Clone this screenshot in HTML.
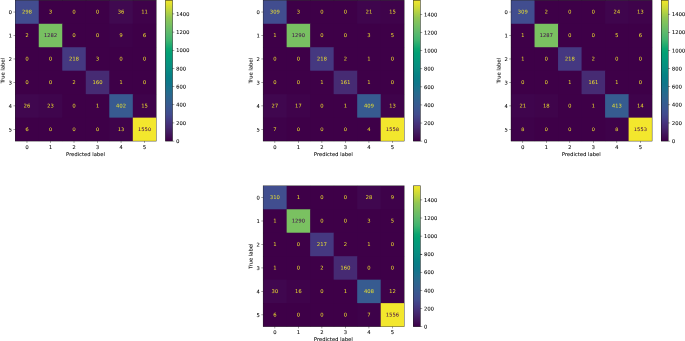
<!DOCTYPE html>
<html><head><meta charset="utf-8"><title>Confusion matrices</title>
<style>
html,body{margin:0;padding:0;background:#fff;overflow:hidden}
#w{width:1370px;height:682px;transform-origin:0 0;transform:scale(0.5);will-change:transform}
#c{width:685px;height:341px;overflow:hidden;position:relative;background:#fff}
svg{display:block}
text{text-rendering:geometricPrecision;font-family:"DejaVu Sans","Liberation Sans",sans-serif;font-size:50.80px}
.k{fill:#000;stroke:#000;stroke-width:0.60px}
.tk{stroke:#000;stroke-width:0.36}
</style></head><body>
<div id="c"><div id="w"><svg width="1370" height="682" viewBox="0 0 685 341">
<defs><linearGradient id="vg" x1="0" y1="0" x2="0" y2="1"><stop offset="0.0000" stop-color="#f3e72d"/><stop offset="0.0312" stop-color="#dee031"/><stop offset="0.0625" stop-color="#c6d83c"/><stop offset="0.0938" stop-color="#abcf47"/><stop offset="0.1250" stop-color="#91c754"/><stop offset="0.1562" stop-color="#82c35d"/><stop offset="0.1875" stop-color="#72bf64"/><stop offset="0.2188" stop-color="#63bb6b"/><stop offset="0.2500" stop-color="#52b86f"/><stop offset="0.2812" stop-color="#41b570"/><stop offset="0.3125" stop-color="#26ae71"/><stop offset="0.3438" stop-color="#0ca671"/><stop offset="0.3750" stop-color="#02a075"/><stop offset="0.4062" stop-color="#039b7a"/><stop offset="0.4375" stop-color="#05957e"/><stop offset="0.4688" stop-color="#078f81"/><stop offset="0.5000" stop-color="#078983"/><stop offset="0.5312" stop-color="#068285"/><stop offset="0.5625" stop-color="#0a7c88"/><stop offset="0.5938" stop-color="#10768b"/><stop offset="0.6250" stop-color="#1a718d"/><stop offset="0.6562" stop-color="#256b8e"/><stop offset="0.6875" stop-color="#2d658f"/><stop offset="0.7188" stop-color="#335f90"/><stop offset="0.7500" stop-color="#395990"/><stop offset="0.7812" stop-color="#3e5290"/><stop offset="0.8125" stop-color="#424b8e"/><stop offset="0.8438" stop-color="#443f86"/><stop offset="0.8750" stop-color="#46337c"/><stop offset="0.9062" stop-color="#45286f"/><stop offset="0.9375" stop-color="#431c61"/><stop offset="0.9688" stop-color="#410e55"/><stop offset="1.0000" stop-color="#3e0048"/></linearGradient></defs>
<rect width="685" height="341" fill="#fff"/>
<g transform="translate(15.22,0.30)">
<rect x="0.00" y="0.00" width="24.12" height="24.07" fill="#424c8f"/>
<rect x="23.52" y="0.00" width="24.12" height="24.07" fill="#3e0048"/>
<rect x="47.03" y="0.00" width="24.12" height="24.07" fill="#3e0048"/>
<rect x="70.55" y="0.00" width="24.12" height="24.07" fill="#3e0048"/>
<rect x="94.07" y="0.00" width="24.12" height="24.07" fill="#400950"/>
<rect x="117.58" y="0.00" width="23.52" height="24.07" fill="#3f024a"/>
<rect x="0.00" y="23.47" width="24.12" height="24.07" fill="#3e0048"/>
<rect x="23.52" y="23.47" width="24.12" height="24.07" fill="#78c062"/>
<rect x="47.03" y="23.47" width="24.12" height="24.07" fill="#3e0048"/>
<rect x="70.55" y="23.47" width="24.12" height="24.07" fill="#3e0048"/>
<rect x="94.07" y="23.47" width="24.12" height="24.07" fill="#3e024a"/>
<rect x="117.58" y="23.47" width="23.52" height="24.07" fill="#3e0048"/>
<rect x="0.00" y="46.93" width="24.12" height="24.07" fill="#3e0048"/>
<rect x="23.52" y="46.93" width="24.12" height="24.07" fill="#3e0048"/>
<rect x="47.03" y="46.93" width="24.12" height="24.07" fill="#453981"/>
<rect x="70.55" y="46.93" width="24.12" height="24.07" fill="#3e0048"/>
<rect x="94.07" y="46.93" width="24.12" height="24.07" fill="#3e0048"/>
<rect x="117.58" y="46.93" width="23.52" height="24.07" fill="#3e0048"/>
<rect x="0.00" y="70.40" width="24.12" height="24.07" fill="#3e0048"/>
<rect x="23.52" y="70.40" width="24.12" height="24.07" fill="#3e0048"/>
<rect x="47.03" y="70.40" width="24.12" height="24.07" fill="#3e0048"/>
<rect x="70.55" y="70.40" width="24.12" height="24.07" fill="#462b73"/>
<rect x="94.07" y="70.40" width="24.12" height="24.07" fill="#3e0048"/>
<rect x="117.58" y="70.40" width="23.52" height="24.07" fill="#3e0048"/>
<rect x="0.00" y="93.87" width="24.12" height="24.07" fill="#40074f"/>
<rect x="23.52" y="93.87" width="24.12" height="24.07" fill="#3f054d"/>
<rect x="47.03" y="93.87" width="24.12" height="24.07" fill="#3e0048"/>
<rect x="70.55" y="93.87" width="24.12" height="24.07" fill="#3e0048"/>
<rect x="94.07" y="93.87" width="24.12" height="24.07" fill="#385a90"/>
<rect x="117.58" y="93.87" width="23.52" height="24.07" fill="#3f034b"/>
<rect x="0.00" y="117.33" width="24.12" height="23.47" fill="#3e0048"/>
<rect x="23.52" y="117.33" width="24.12" height="23.47" fill="#3e0048"/>
<rect x="47.03" y="117.33" width="24.12" height="23.47" fill="#3e0048"/>
<rect x="70.55" y="117.33" width="24.12" height="23.47" fill="#3e0048"/>
<rect x="94.07" y="117.33" width="24.12" height="23.47" fill="#3f034b"/>
<rect x="117.58" y="117.33" width="23.52" height="23.47" fill="#f3e72d"/>
<rect x="0" y="0" width="141.10" height="140.80" fill="none" stroke="#000" stroke-width="0.36"/>
<text transform="translate(11.76,13.33) scale(0.1030,0.1000)" text-anchor="middle" fill="#f3e72d">298</text>
<text transform="translate(35.27,13.33) scale(0.1030,0.1000)" text-anchor="middle" fill="#f3e72d">3</text>
<text transform="translate(58.79,13.33) scale(0.1030,0.1000)" text-anchor="middle" fill="#f3e72d">0</text>
<text transform="translate(82.31,13.33) scale(0.1030,0.1000)" text-anchor="middle" fill="#f3e72d">0</text>
<text transform="translate(105.82,13.33) scale(0.1030,0.1000)" text-anchor="middle" fill="#f3e72d">36</text>
<text transform="translate(129.34,13.33) scale(0.1030,0.1000)" text-anchor="middle" fill="#f3e72d">11</text>
<text transform="translate(11.76,36.80) scale(0.1030,0.1000)" text-anchor="middle" fill="#f3e72d">2</text>
<text transform="translate(35.27,36.80) scale(0.1030,0.1000)" text-anchor="middle" fill="#3e0048">1282</text>
<text transform="translate(58.79,36.80) scale(0.1030,0.1000)" text-anchor="middle" fill="#f3e72d">0</text>
<text transform="translate(82.31,36.80) scale(0.1030,0.1000)" text-anchor="middle" fill="#f3e72d">0</text>
<text transform="translate(105.82,36.80) scale(0.1030,0.1000)" text-anchor="middle" fill="#f3e72d">9</text>
<text transform="translate(129.34,36.80) scale(0.1030,0.1000)" text-anchor="middle" fill="#f3e72d">6</text>
<text transform="translate(11.76,60.27) scale(0.1030,0.1000)" text-anchor="middle" fill="#f3e72d">0</text>
<text transform="translate(35.27,60.27) scale(0.1030,0.1000)" text-anchor="middle" fill="#f3e72d">0</text>
<text transform="translate(58.79,60.27) scale(0.1030,0.1000)" text-anchor="middle" fill="#f3e72d">218</text>
<text transform="translate(82.31,60.27) scale(0.1030,0.1000)" text-anchor="middle" fill="#f3e72d">3</text>
<text transform="translate(105.82,60.27) scale(0.1030,0.1000)" text-anchor="middle" fill="#f3e72d">0</text>
<text transform="translate(129.34,60.27) scale(0.1030,0.1000)" text-anchor="middle" fill="#f3e72d">0</text>
<text transform="translate(11.76,83.73) scale(0.1030,0.1000)" text-anchor="middle" fill="#f3e72d">0</text>
<text transform="translate(35.27,83.73) scale(0.1030,0.1000)" text-anchor="middle" fill="#f3e72d">0</text>
<text transform="translate(58.79,83.73) scale(0.1030,0.1000)" text-anchor="middle" fill="#f3e72d">2</text>
<text transform="translate(82.31,83.73) scale(0.1030,0.1000)" text-anchor="middle" fill="#f3e72d">160</text>
<text transform="translate(105.82,83.73) scale(0.1030,0.1000)" text-anchor="middle" fill="#f3e72d">1</text>
<text transform="translate(129.34,83.73) scale(0.1030,0.1000)" text-anchor="middle" fill="#f3e72d">0</text>
<text transform="translate(11.76,107.20) scale(0.1030,0.1000)" text-anchor="middle" fill="#f3e72d">26</text>
<text transform="translate(35.27,107.20) scale(0.1030,0.1000)" text-anchor="middle" fill="#f3e72d">23</text>
<text transform="translate(58.79,107.20) scale(0.1030,0.1000)" text-anchor="middle" fill="#f3e72d">0</text>
<text transform="translate(82.31,107.20) scale(0.1030,0.1000)" text-anchor="middle" fill="#f3e72d">1</text>
<text transform="translate(105.82,107.20) scale(0.1030,0.1000)" text-anchor="middle" fill="#f3e72d">402</text>
<text transform="translate(129.34,107.20) scale(0.1030,0.1000)" text-anchor="middle" fill="#f3e72d">15</text>
<text transform="translate(11.76,130.67) scale(0.1030,0.1000)" text-anchor="middle" fill="#f3e72d">6</text>
<text transform="translate(35.27,130.67) scale(0.1030,0.1000)" text-anchor="middle" fill="#f3e72d">0</text>
<text transform="translate(58.79,130.67) scale(0.1030,0.1000)" text-anchor="middle" fill="#f3e72d">0</text>
<text transform="translate(82.31,130.67) scale(0.1030,0.1000)" text-anchor="middle" fill="#f3e72d">0</text>
<text transform="translate(105.82,130.67) scale(0.1030,0.1000)" text-anchor="middle" fill="#f3e72d">13</text>
<text transform="translate(129.34,130.67) scale(0.1030,0.1000)" text-anchor="middle" fill="#3e0048">1550</text>
<line x1="-1.80" y1="11.73" x2="0" y2="11.73" class="tk"/>
<text transform="translate(-3.25,13.63) scale(0.1030,0.1000)" text-anchor="end" class="k">0</text>
<line x1="11.76" y1="140.80" x2="11.76" y2="142.60" class="tk"/>
<text transform="translate(11.76,148.60) scale(0.1030,0.1000)" text-anchor="middle" class="k">0</text>
<line x1="-1.80" y1="35.20" x2="0" y2="35.20" class="tk"/>
<text transform="translate(-3.25,37.10) scale(0.1030,0.1000)" text-anchor="end" class="k">1</text>
<line x1="35.27" y1="140.80" x2="35.27" y2="142.60" class="tk"/>
<text transform="translate(35.27,148.60) scale(0.1030,0.1000)" text-anchor="middle" class="k">1</text>
<line x1="-1.80" y1="58.67" x2="0" y2="58.67" class="tk"/>
<text transform="translate(-3.25,60.57) scale(0.1030,0.1000)" text-anchor="end" class="k">2</text>
<line x1="58.79" y1="140.80" x2="58.79" y2="142.60" class="tk"/>
<text transform="translate(58.79,148.60) scale(0.1030,0.1000)" text-anchor="middle" class="k">2</text>
<line x1="-1.80" y1="82.13" x2="0" y2="82.13" class="tk"/>
<text transform="translate(-3.25,84.03) scale(0.1030,0.1000)" text-anchor="end" class="k">3</text>
<line x1="82.31" y1="140.80" x2="82.31" y2="142.60" class="tk"/>
<text transform="translate(82.31,148.60) scale(0.1030,0.1000)" text-anchor="middle" class="k">3</text>
<line x1="-1.80" y1="105.60" x2="0" y2="105.60" class="tk"/>
<text transform="translate(-3.25,107.50) scale(0.1030,0.1000)" text-anchor="end" class="k">4</text>
<line x1="105.82" y1="140.80" x2="105.82" y2="142.60" class="tk"/>
<text transform="translate(105.82,148.60) scale(0.1030,0.1000)" text-anchor="middle" class="k">4</text>
<line x1="-1.80" y1="129.07" x2="0" y2="129.07" class="tk"/>
<text transform="translate(-3.25,130.97) scale(0.1030,0.1000)" text-anchor="end" class="k">5</text>
<line x1="129.34" y1="140.80" x2="129.34" y2="142.60" class="tk"/>
<text transform="translate(129.34,148.60) scale(0.1030,0.1000)" text-anchor="middle" class="k">5</text>
<text transform="translate(70.25,155.50) scale(0.1030,0.1000)" text-anchor="middle" class="k">Predicted label</text>
<text transform="translate(-10.70,70.40) rotate(-90) scale(0.1030,0.1000)" text-anchor="middle" class="k">True label</text>
<rect x="150.20" y="0" width="7.10" height="140.80" fill="url(#vg)" stroke="#000" stroke-width="0.44"/>
<line x1="157.30" y1="140.80" x2="159.10" y2="140.80" class="tk"/>
<text transform="translate(160.90,142.70) scale(0.1030,0.1000)" class="k">0</text>
<line x1="157.30" y1="122.63" x2="159.10" y2="122.63" class="tk"/>
<text transform="translate(160.90,124.53) scale(0.1030,0.1000)" class="k">200</text>
<line x1="157.30" y1="104.46" x2="159.10" y2="104.46" class="tk"/>
<text transform="translate(160.90,106.36) scale(0.1030,0.1000)" class="k">400</text>
<line x1="157.30" y1="86.30" x2="159.10" y2="86.30" class="tk"/>
<text transform="translate(160.90,88.20) scale(0.1030,0.1000)" class="k">600</text>
<line x1="157.30" y1="68.13" x2="159.10" y2="68.13" class="tk"/>
<text transform="translate(160.90,70.03) scale(0.1030,0.1000)" class="k">800</text>
<line x1="157.30" y1="49.96" x2="159.10" y2="49.96" class="tk"/>
<text transform="translate(160.90,51.86) scale(0.1030,0.1000)" class="k">1000</text>
<line x1="157.30" y1="31.79" x2="159.10" y2="31.79" class="tk"/>
<text transform="translate(160.90,33.69) scale(0.1030,0.1000)" class="k">1200</text>
<line x1="157.30" y1="13.63" x2="159.10" y2="13.63" class="tk"/>
<text transform="translate(160.90,15.53) scale(0.1030,0.1000)" class="k">1400</text>
</g>
<g transform="translate(263.12,0.30)">
<rect x="0.00" y="0.00" width="24.12" height="24.07" fill="#414d8f"/>
<rect x="23.52" y="0.00" width="24.12" height="24.07" fill="#3e0048"/>
<rect x="47.03" y="0.00" width="24.12" height="24.07" fill="#3e0048"/>
<rect x="70.55" y="0.00" width="24.12" height="24.07" fill="#3e0048"/>
<rect x="94.07" y="0.00" width="24.12" height="24.07" fill="#3f054d"/>
<rect x="117.58" y="0.00" width="23.52" height="24.07" fill="#3f034b"/>
<rect x="0.00" y="23.47" width="24.12" height="24.07" fill="#3e0048"/>
<rect x="23.52" y="23.47" width="24.12" height="24.07" fill="#78c062"/>
<rect x="47.03" y="23.47" width="24.12" height="24.07" fill="#3e0048"/>
<rect x="70.55" y="23.47" width="24.12" height="24.07" fill="#3e0048"/>
<rect x="94.07" y="23.47" width="24.12" height="24.07" fill="#3e0048"/>
<rect x="117.58" y="23.47" width="23.52" height="24.07" fill="#3e0048"/>
<rect x="0.00" y="46.93" width="24.12" height="24.07" fill="#3e0048"/>
<rect x="23.52" y="46.93" width="24.12" height="24.07" fill="#3e0048"/>
<rect x="47.03" y="46.93" width="24.12" height="24.07" fill="#453880"/>
<rect x="70.55" y="46.93" width="24.12" height="24.07" fill="#3e0048"/>
<rect x="94.07" y="46.93" width="24.12" height="24.07" fill="#3e0048"/>
<rect x="117.58" y="46.93" width="23.52" height="24.07" fill="#3e0048"/>
<rect x="0.00" y="70.40" width="24.12" height="24.07" fill="#3e0048"/>
<rect x="23.52" y="70.40" width="24.12" height="24.07" fill="#3e0048"/>
<rect x="47.03" y="70.40" width="24.12" height="24.07" fill="#3e0048"/>
<rect x="70.55" y="70.40" width="24.12" height="24.07" fill="#462b73"/>
<rect x="94.07" y="70.40" width="24.12" height="24.07" fill="#3e0048"/>
<rect x="117.58" y="70.40" width="23.52" height="24.07" fill="#3e0048"/>
<rect x="0.00" y="93.87" width="24.12" height="24.07" fill="#40074f"/>
<rect x="23.52" y="93.87" width="24.12" height="24.07" fill="#3f034b"/>
<rect x="47.03" y="93.87" width="24.12" height="24.07" fill="#3e0048"/>
<rect x="70.55" y="93.87" width="24.12" height="24.07" fill="#3e0048"/>
<rect x="94.07" y="93.87" width="24.12" height="24.07" fill="#375b90"/>
<rect x="117.58" y="93.87" width="23.52" height="24.07" fill="#3f034b"/>
<rect x="0.00" y="117.33" width="24.12" height="23.47" fill="#3e024a"/>
<rect x="23.52" y="117.33" width="24.12" height="23.47" fill="#3e0048"/>
<rect x="47.03" y="117.33" width="24.12" height="23.47" fill="#3e0048"/>
<rect x="70.55" y="117.33" width="24.12" height="23.47" fill="#3e0048"/>
<rect x="94.07" y="117.33" width="24.12" height="23.47" fill="#3e0048"/>
<rect x="117.58" y="117.33" width="23.52" height="23.47" fill="#f3e72d"/>
<rect x="0" y="0" width="141.10" height="140.80" fill="none" stroke="#000" stroke-width="0.36"/>
<text transform="translate(11.76,13.33) scale(0.1030,0.1000)" text-anchor="middle" fill="#f3e72d">309</text>
<text transform="translate(35.27,13.33) scale(0.1030,0.1000)" text-anchor="middle" fill="#f3e72d">3</text>
<text transform="translate(58.79,13.33) scale(0.1030,0.1000)" text-anchor="middle" fill="#f3e72d">0</text>
<text transform="translate(82.31,13.33) scale(0.1030,0.1000)" text-anchor="middle" fill="#f3e72d">0</text>
<text transform="translate(105.82,13.33) scale(0.1030,0.1000)" text-anchor="middle" fill="#f3e72d">21</text>
<text transform="translate(129.34,13.33) scale(0.1030,0.1000)" text-anchor="middle" fill="#f3e72d">15</text>
<text transform="translate(11.76,36.80) scale(0.1030,0.1000)" text-anchor="middle" fill="#f3e72d">1</text>
<text transform="translate(35.27,36.80) scale(0.1030,0.1000)" text-anchor="middle" fill="#3e0048">1290</text>
<text transform="translate(58.79,36.80) scale(0.1030,0.1000)" text-anchor="middle" fill="#f3e72d">0</text>
<text transform="translate(82.31,36.80) scale(0.1030,0.1000)" text-anchor="middle" fill="#f3e72d">0</text>
<text transform="translate(105.82,36.80) scale(0.1030,0.1000)" text-anchor="middle" fill="#f3e72d">3</text>
<text transform="translate(129.34,36.80) scale(0.1030,0.1000)" text-anchor="middle" fill="#f3e72d">5</text>
<text transform="translate(11.76,60.27) scale(0.1030,0.1000)" text-anchor="middle" fill="#f3e72d">0</text>
<text transform="translate(35.27,60.27) scale(0.1030,0.1000)" text-anchor="middle" fill="#f3e72d">0</text>
<text transform="translate(58.79,60.27) scale(0.1030,0.1000)" text-anchor="middle" fill="#f3e72d">218</text>
<text transform="translate(82.31,60.27) scale(0.1030,0.1000)" text-anchor="middle" fill="#f3e72d">2</text>
<text transform="translate(105.82,60.27) scale(0.1030,0.1000)" text-anchor="middle" fill="#f3e72d">1</text>
<text transform="translate(129.34,60.27) scale(0.1030,0.1000)" text-anchor="middle" fill="#f3e72d">0</text>
<text transform="translate(11.76,83.73) scale(0.1030,0.1000)" text-anchor="middle" fill="#f3e72d">0</text>
<text transform="translate(35.27,83.73) scale(0.1030,0.1000)" text-anchor="middle" fill="#f3e72d">0</text>
<text transform="translate(58.79,83.73) scale(0.1030,0.1000)" text-anchor="middle" fill="#f3e72d">1</text>
<text transform="translate(82.31,83.73) scale(0.1030,0.1000)" text-anchor="middle" fill="#f3e72d">161</text>
<text transform="translate(105.82,83.73) scale(0.1030,0.1000)" text-anchor="middle" fill="#f3e72d">1</text>
<text transform="translate(129.34,83.73) scale(0.1030,0.1000)" text-anchor="middle" fill="#f3e72d">0</text>
<text transform="translate(11.76,107.20) scale(0.1030,0.1000)" text-anchor="middle" fill="#f3e72d">27</text>
<text transform="translate(35.27,107.20) scale(0.1030,0.1000)" text-anchor="middle" fill="#f3e72d">17</text>
<text transform="translate(58.79,107.20) scale(0.1030,0.1000)" text-anchor="middle" fill="#f3e72d">0</text>
<text transform="translate(82.31,107.20) scale(0.1030,0.1000)" text-anchor="middle" fill="#f3e72d">1</text>
<text transform="translate(105.82,107.20) scale(0.1030,0.1000)" text-anchor="middle" fill="#f3e72d">409</text>
<text transform="translate(129.34,107.20) scale(0.1030,0.1000)" text-anchor="middle" fill="#f3e72d">13</text>
<text transform="translate(11.76,130.67) scale(0.1030,0.1000)" text-anchor="middle" fill="#f3e72d">7</text>
<text transform="translate(35.27,130.67) scale(0.1030,0.1000)" text-anchor="middle" fill="#f3e72d">0</text>
<text transform="translate(58.79,130.67) scale(0.1030,0.1000)" text-anchor="middle" fill="#f3e72d">0</text>
<text transform="translate(82.31,130.67) scale(0.1030,0.1000)" text-anchor="middle" fill="#f3e72d">0</text>
<text transform="translate(105.82,130.67) scale(0.1030,0.1000)" text-anchor="middle" fill="#f3e72d">4</text>
<text transform="translate(129.34,130.67) scale(0.1030,0.1000)" text-anchor="middle" fill="#3e0048">1558</text>
<line x1="-1.80" y1="11.73" x2="0" y2="11.73" class="tk"/>
<text transform="translate(-3.25,13.63) scale(0.1030,0.1000)" text-anchor="end" class="k">0</text>
<line x1="11.76" y1="140.80" x2="11.76" y2="142.60" class="tk"/>
<text transform="translate(11.76,148.60) scale(0.1030,0.1000)" text-anchor="middle" class="k">0</text>
<line x1="-1.80" y1="35.20" x2="0" y2="35.20" class="tk"/>
<text transform="translate(-3.25,37.10) scale(0.1030,0.1000)" text-anchor="end" class="k">1</text>
<line x1="35.27" y1="140.80" x2="35.27" y2="142.60" class="tk"/>
<text transform="translate(35.27,148.60) scale(0.1030,0.1000)" text-anchor="middle" class="k">1</text>
<line x1="-1.80" y1="58.67" x2="0" y2="58.67" class="tk"/>
<text transform="translate(-3.25,60.57) scale(0.1030,0.1000)" text-anchor="end" class="k">2</text>
<line x1="58.79" y1="140.80" x2="58.79" y2="142.60" class="tk"/>
<text transform="translate(58.79,148.60) scale(0.1030,0.1000)" text-anchor="middle" class="k">2</text>
<line x1="-1.80" y1="82.13" x2="0" y2="82.13" class="tk"/>
<text transform="translate(-3.25,84.03) scale(0.1030,0.1000)" text-anchor="end" class="k">3</text>
<line x1="82.31" y1="140.80" x2="82.31" y2="142.60" class="tk"/>
<text transform="translate(82.31,148.60) scale(0.1030,0.1000)" text-anchor="middle" class="k">3</text>
<line x1="-1.80" y1="105.60" x2="0" y2="105.60" class="tk"/>
<text transform="translate(-3.25,107.50) scale(0.1030,0.1000)" text-anchor="end" class="k">4</text>
<line x1="105.82" y1="140.80" x2="105.82" y2="142.60" class="tk"/>
<text transform="translate(105.82,148.60) scale(0.1030,0.1000)" text-anchor="middle" class="k">4</text>
<line x1="-1.80" y1="129.07" x2="0" y2="129.07" class="tk"/>
<text transform="translate(-3.25,130.97) scale(0.1030,0.1000)" text-anchor="end" class="k">5</text>
<line x1="129.34" y1="140.80" x2="129.34" y2="142.60" class="tk"/>
<text transform="translate(129.34,148.60) scale(0.1030,0.1000)" text-anchor="middle" class="k">5</text>
<text transform="translate(70.25,155.50) scale(0.1030,0.1000)" text-anchor="middle" class="k">Predicted label</text>
<text transform="translate(-10.70,70.40) rotate(-90) scale(0.1030,0.1000)" text-anchor="middle" class="k">True label</text>
<rect x="150.20" y="0" width="7.10" height="140.80" fill="url(#vg)" stroke="#000" stroke-width="0.44"/>
<line x1="157.30" y1="140.80" x2="159.10" y2="140.80" class="tk"/>
<text transform="translate(160.90,142.70) scale(0.1030,0.1000)" class="k">0</text>
<line x1="157.30" y1="122.73" x2="159.10" y2="122.73" class="tk"/>
<text transform="translate(160.90,124.63) scale(0.1030,0.1000)" class="k">200</text>
<line x1="157.30" y1="104.65" x2="159.10" y2="104.65" class="tk"/>
<text transform="translate(160.90,106.55) scale(0.1030,0.1000)" class="k">400</text>
<line x1="157.30" y1="86.58" x2="159.10" y2="86.58" class="tk"/>
<text transform="translate(160.90,88.48) scale(0.1030,0.1000)" class="k">600</text>
<line x1="157.30" y1="68.50" x2="159.10" y2="68.50" class="tk"/>
<text transform="translate(160.90,70.40) scale(0.1030,0.1000)" class="k">800</text>
<line x1="157.30" y1="50.43" x2="159.10" y2="50.43" class="tk"/>
<text transform="translate(160.90,52.33) scale(0.1030,0.1000)" class="k">1000</text>
<line x1="157.30" y1="32.35" x2="159.10" y2="32.35" class="tk"/>
<text transform="translate(160.90,34.25) scale(0.1030,0.1000)" class="k">1200</text>
<line x1="157.30" y1="14.28" x2="159.10" y2="14.28" class="tk"/>
<text transform="translate(160.90,16.18) scale(0.1030,0.1000)" class="k">1400</text>
</g>
<g transform="translate(511.02,0.30)">
<rect x="0.00" y="0.00" width="24.12" height="24.07" fill="#414d8f"/>
<rect x="23.52" y="0.00" width="24.12" height="24.07" fill="#3e0048"/>
<rect x="47.03" y="0.00" width="24.12" height="24.07" fill="#3e0048"/>
<rect x="70.55" y="0.00" width="24.12" height="24.07" fill="#3e0048"/>
<rect x="94.07" y="0.00" width="24.12" height="24.07" fill="#3f054d"/>
<rect x="117.58" y="0.00" width="23.52" height="24.07" fill="#3f034b"/>
<rect x="0.00" y="23.47" width="24.12" height="24.07" fill="#3e0048"/>
<rect x="23.52" y="23.47" width="24.12" height="24.07" fill="#7ac161"/>
<rect x="47.03" y="23.47" width="24.12" height="24.07" fill="#3e0048"/>
<rect x="70.55" y="23.47" width="24.12" height="24.07" fill="#3e0048"/>
<rect x="94.07" y="23.47" width="24.12" height="24.07" fill="#3e0048"/>
<rect x="117.58" y="23.47" width="23.52" height="24.07" fill="#3e0048"/>
<rect x="0.00" y="46.93" width="24.12" height="24.07" fill="#3e0048"/>
<rect x="23.52" y="46.93" width="24.12" height="24.07" fill="#3e0048"/>
<rect x="47.03" y="46.93" width="24.12" height="24.07" fill="#453881"/>
<rect x="70.55" y="46.93" width="24.12" height="24.07" fill="#3e0048"/>
<rect x="94.07" y="46.93" width="24.12" height="24.07" fill="#3e0048"/>
<rect x="117.58" y="46.93" width="23.52" height="24.07" fill="#3e0048"/>
<rect x="0.00" y="70.40" width="24.12" height="24.07" fill="#3e0048"/>
<rect x="23.52" y="70.40" width="24.12" height="24.07" fill="#3e0048"/>
<rect x="47.03" y="70.40" width="24.12" height="24.07" fill="#3e0048"/>
<rect x="70.55" y="70.40" width="24.12" height="24.07" fill="#462b73"/>
<rect x="94.07" y="70.40" width="24.12" height="24.07" fill="#3e0048"/>
<rect x="117.58" y="70.40" width="23.52" height="24.07" fill="#3e0048"/>
<rect x="0.00" y="93.87" width="24.12" height="24.07" fill="#3f054d"/>
<rect x="23.52" y="93.87" width="24.12" height="24.07" fill="#3f044b"/>
<rect x="47.03" y="93.87" width="24.12" height="24.07" fill="#3e0048"/>
<rect x="70.55" y="93.87" width="24.12" height="24.07" fill="#3e0048"/>
<rect x="94.07" y="93.87" width="24.12" height="24.07" fill="#365c90"/>
<rect x="117.58" y="93.87" width="23.52" height="24.07" fill="#3f034b"/>
<rect x="0.00" y="117.33" width="24.12" height="23.47" fill="#3e024a"/>
<rect x="23.52" y="117.33" width="24.12" height="23.47" fill="#3e0048"/>
<rect x="47.03" y="117.33" width="24.12" height="23.47" fill="#3e0048"/>
<rect x="70.55" y="117.33" width="24.12" height="23.47" fill="#3e0048"/>
<rect x="94.07" y="117.33" width="24.12" height="23.47" fill="#3e024a"/>
<rect x="117.58" y="117.33" width="23.52" height="23.47" fill="#f3e72d"/>
<rect x="0" y="0" width="141.10" height="140.80" fill="none" stroke="#000" stroke-width="0.36"/>
<text transform="translate(11.76,13.33) scale(0.1030,0.1000)" text-anchor="middle" fill="#f3e72d">309</text>
<text transform="translate(35.27,13.33) scale(0.1030,0.1000)" text-anchor="middle" fill="#f3e72d">2</text>
<text transform="translate(58.79,13.33) scale(0.1030,0.1000)" text-anchor="middle" fill="#f3e72d">0</text>
<text transform="translate(82.31,13.33) scale(0.1030,0.1000)" text-anchor="middle" fill="#f3e72d">0</text>
<text transform="translate(105.82,13.33) scale(0.1030,0.1000)" text-anchor="middle" fill="#f3e72d">24</text>
<text transform="translate(129.34,13.33) scale(0.1030,0.1000)" text-anchor="middle" fill="#f3e72d">13</text>
<text transform="translate(11.76,36.80) scale(0.1030,0.1000)" text-anchor="middle" fill="#f3e72d">1</text>
<text transform="translate(35.27,36.80) scale(0.1030,0.1000)" text-anchor="middle" fill="#3e0048">1287</text>
<text transform="translate(58.79,36.80) scale(0.1030,0.1000)" text-anchor="middle" fill="#f3e72d">0</text>
<text transform="translate(82.31,36.80) scale(0.1030,0.1000)" text-anchor="middle" fill="#f3e72d">0</text>
<text transform="translate(105.82,36.80) scale(0.1030,0.1000)" text-anchor="middle" fill="#f3e72d">5</text>
<text transform="translate(129.34,36.80) scale(0.1030,0.1000)" text-anchor="middle" fill="#f3e72d">6</text>
<text transform="translate(11.76,60.27) scale(0.1030,0.1000)" text-anchor="middle" fill="#f3e72d">1</text>
<text transform="translate(35.27,60.27) scale(0.1030,0.1000)" text-anchor="middle" fill="#f3e72d">0</text>
<text transform="translate(58.79,60.27) scale(0.1030,0.1000)" text-anchor="middle" fill="#f3e72d">218</text>
<text transform="translate(82.31,60.27) scale(0.1030,0.1000)" text-anchor="middle" fill="#f3e72d">2</text>
<text transform="translate(105.82,60.27) scale(0.1030,0.1000)" text-anchor="middle" fill="#f3e72d">0</text>
<text transform="translate(129.34,60.27) scale(0.1030,0.1000)" text-anchor="middle" fill="#f3e72d">0</text>
<text transform="translate(11.76,83.73) scale(0.1030,0.1000)" text-anchor="middle" fill="#f3e72d">0</text>
<text transform="translate(35.27,83.73) scale(0.1030,0.1000)" text-anchor="middle" fill="#f3e72d">0</text>
<text transform="translate(58.79,83.73) scale(0.1030,0.1000)" text-anchor="middle" fill="#f3e72d">1</text>
<text transform="translate(82.31,83.73) scale(0.1030,0.1000)" text-anchor="middle" fill="#f3e72d">161</text>
<text transform="translate(105.82,83.73) scale(0.1030,0.1000)" text-anchor="middle" fill="#f3e72d">1</text>
<text transform="translate(129.34,83.73) scale(0.1030,0.1000)" text-anchor="middle" fill="#f3e72d">0</text>
<text transform="translate(11.76,107.20) scale(0.1030,0.1000)" text-anchor="middle" fill="#f3e72d">21</text>
<text transform="translate(35.27,107.20) scale(0.1030,0.1000)" text-anchor="middle" fill="#f3e72d">18</text>
<text transform="translate(58.79,107.20) scale(0.1030,0.1000)" text-anchor="middle" fill="#f3e72d">0</text>
<text transform="translate(82.31,107.20) scale(0.1030,0.1000)" text-anchor="middle" fill="#f3e72d">1</text>
<text transform="translate(105.82,107.20) scale(0.1030,0.1000)" text-anchor="middle" fill="#f3e72d">413</text>
<text transform="translate(129.34,107.20) scale(0.1030,0.1000)" text-anchor="middle" fill="#f3e72d">14</text>
<text transform="translate(11.76,130.67) scale(0.1030,0.1000)" text-anchor="middle" fill="#f3e72d">8</text>
<text transform="translate(35.27,130.67) scale(0.1030,0.1000)" text-anchor="middle" fill="#f3e72d">0</text>
<text transform="translate(58.79,130.67) scale(0.1030,0.1000)" text-anchor="middle" fill="#f3e72d">0</text>
<text transform="translate(82.31,130.67) scale(0.1030,0.1000)" text-anchor="middle" fill="#f3e72d">0</text>
<text transform="translate(105.82,130.67) scale(0.1030,0.1000)" text-anchor="middle" fill="#f3e72d">8</text>
<text transform="translate(129.34,130.67) scale(0.1030,0.1000)" text-anchor="middle" fill="#3e0048">1553</text>
<line x1="-1.80" y1="11.73" x2="0" y2="11.73" class="tk"/>
<text transform="translate(-3.25,13.63) scale(0.1030,0.1000)" text-anchor="end" class="k">0</text>
<line x1="11.76" y1="140.80" x2="11.76" y2="142.60" class="tk"/>
<text transform="translate(11.76,148.60) scale(0.1030,0.1000)" text-anchor="middle" class="k">0</text>
<line x1="-1.80" y1="35.20" x2="0" y2="35.20" class="tk"/>
<text transform="translate(-3.25,37.10) scale(0.1030,0.1000)" text-anchor="end" class="k">1</text>
<line x1="35.27" y1="140.80" x2="35.27" y2="142.60" class="tk"/>
<text transform="translate(35.27,148.60) scale(0.1030,0.1000)" text-anchor="middle" class="k">1</text>
<line x1="-1.80" y1="58.67" x2="0" y2="58.67" class="tk"/>
<text transform="translate(-3.25,60.57) scale(0.1030,0.1000)" text-anchor="end" class="k">2</text>
<line x1="58.79" y1="140.80" x2="58.79" y2="142.60" class="tk"/>
<text transform="translate(58.79,148.60) scale(0.1030,0.1000)" text-anchor="middle" class="k">2</text>
<line x1="-1.80" y1="82.13" x2="0" y2="82.13" class="tk"/>
<text transform="translate(-3.25,84.03) scale(0.1030,0.1000)" text-anchor="end" class="k">3</text>
<line x1="82.31" y1="140.80" x2="82.31" y2="142.60" class="tk"/>
<text transform="translate(82.31,148.60) scale(0.1030,0.1000)" text-anchor="middle" class="k">3</text>
<line x1="-1.80" y1="105.60" x2="0" y2="105.60" class="tk"/>
<text transform="translate(-3.25,107.50) scale(0.1030,0.1000)" text-anchor="end" class="k">4</text>
<line x1="105.82" y1="140.80" x2="105.82" y2="142.60" class="tk"/>
<text transform="translate(105.82,148.60) scale(0.1030,0.1000)" text-anchor="middle" class="k">4</text>
<line x1="-1.80" y1="129.07" x2="0" y2="129.07" class="tk"/>
<text transform="translate(-3.25,130.97) scale(0.1030,0.1000)" text-anchor="end" class="k">5</text>
<line x1="129.34" y1="140.80" x2="129.34" y2="142.60" class="tk"/>
<text transform="translate(129.34,148.60) scale(0.1030,0.1000)" text-anchor="middle" class="k">5</text>
<text transform="translate(70.25,155.50) scale(0.1030,0.1000)" text-anchor="middle" class="k">Predicted label</text>
<text transform="translate(-10.70,70.40) rotate(-90) scale(0.1030,0.1000)" text-anchor="middle" class="k">True label</text>
<rect x="150.20" y="0" width="7.10" height="140.80" fill="url(#vg)" stroke="#000" stroke-width="0.44"/>
<line x1="157.30" y1="140.80" x2="159.10" y2="140.80" class="tk"/>
<text transform="translate(160.90,142.70) scale(0.1030,0.1000)" class="k">0</text>
<line x1="157.30" y1="122.67" x2="159.10" y2="122.67" class="tk"/>
<text transform="translate(160.90,124.57) scale(0.1030,0.1000)" class="k">200</text>
<line x1="157.30" y1="104.53" x2="159.10" y2="104.53" class="tk"/>
<text transform="translate(160.90,106.43) scale(0.1030,0.1000)" class="k">400</text>
<line x1="157.30" y1="86.40" x2="159.10" y2="86.40" class="tk"/>
<text transform="translate(160.90,88.30) scale(0.1030,0.1000)" class="k">600</text>
<line x1="157.30" y1="68.27" x2="159.10" y2="68.27" class="tk"/>
<text transform="translate(160.90,70.17) scale(0.1030,0.1000)" class="k">800</text>
<line x1="157.30" y1="50.14" x2="159.10" y2="50.14" class="tk"/>
<text transform="translate(160.90,52.04) scale(0.1030,0.1000)" class="k">1000</text>
<line x1="157.30" y1="32.00" x2="159.10" y2="32.00" class="tk"/>
<text transform="translate(160.90,33.90) scale(0.1030,0.1000)" class="k">1200</text>
<line x1="157.30" y1="13.87" x2="159.10" y2="13.87" class="tk"/>
<text transform="translate(160.90,15.77) scale(0.1030,0.1000)" class="k">1400</text>
</g>
<g transform="translate(263.12,185.80)">
<rect x="0.00" y="0.00" width="24.12" height="24.07" fill="#414e8f"/>
<rect x="23.52" y="0.00" width="24.12" height="24.07" fill="#3e0048"/>
<rect x="47.03" y="0.00" width="24.12" height="24.07" fill="#3e0048"/>
<rect x="70.55" y="0.00" width="24.12" height="24.07" fill="#3e0048"/>
<rect x="94.07" y="0.00" width="24.12" height="24.07" fill="#40074f"/>
<rect x="117.58" y="0.00" width="23.52" height="24.07" fill="#3e024a"/>
<rect x="0.00" y="23.47" width="24.12" height="24.07" fill="#3e0048"/>
<rect x="23.52" y="23.47" width="24.12" height="24.07" fill="#7ac161"/>
<rect x="47.03" y="23.47" width="24.12" height="24.07" fill="#3e0048"/>
<rect x="70.55" y="23.47" width="24.12" height="24.07" fill="#3e0048"/>
<rect x="94.07" y="23.47" width="24.12" height="24.07" fill="#3e0048"/>
<rect x="117.58" y="23.47" width="23.52" height="24.07" fill="#3e0048"/>
<rect x="0.00" y="46.93" width="24.12" height="24.07" fill="#3e0048"/>
<rect x="23.52" y="46.93" width="24.12" height="24.07" fill="#3e0048"/>
<rect x="47.03" y="46.93" width="24.12" height="24.07" fill="#453880"/>
<rect x="70.55" y="46.93" width="24.12" height="24.07" fill="#3e0048"/>
<rect x="94.07" y="46.93" width="24.12" height="24.07" fill="#3e0048"/>
<rect x="117.58" y="46.93" width="23.52" height="24.07" fill="#3e0048"/>
<rect x="0.00" y="70.40" width="24.12" height="24.07" fill="#3e0048"/>
<rect x="23.52" y="70.40" width="24.12" height="24.07" fill="#3e0048"/>
<rect x="47.03" y="70.40" width="24.12" height="24.07" fill="#3e0048"/>
<rect x="70.55" y="70.40" width="24.12" height="24.07" fill="#462a73"/>
<rect x="94.07" y="70.40" width="24.12" height="24.07" fill="#3e0048"/>
<rect x="117.58" y="70.40" width="23.52" height="24.07" fill="#3e0048"/>
<rect x="0.00" y="93.87" width="24.12" height="24.07" fill="#40074f"/>
<rect x="23.52" y="93.87" width="24.12" height="24.07" fill="#3f034b"/>
<rect x="47.03" y="93.87" width="24.12" height="24.07" fill="#3e0048"/>
<rect x="70.55" y="93.87" width="24.12" height="24.07" fill="#3e0048"/>
<rect x="94.07" y="93.87" width="24.12" height="24.07" fill="#375b90"/>
<rect x="117.58" y="93.87" width="23.52" height="24.07" fill="#3f024a"/>
<rect x="0.00" y="117.33" width="24.12" height="23.47" fill="#3e0048"/>
<rect x="23.52" y="117.33" width="24.12" height="23.47" fill="#3e0048"/>
<rect x="47.03" y="117.33" width="24.12" height="23.47" fill="#3e0048"/>
<rect x="70.55" y="117.33" width="24.12" height="23.47" fill="#3e0048"/>
<rect x="94.07" y="117.33" width="24.12" height="23.47" fill="#3e024a"/>
<rect x="117.58" y="117.33" width="23.52" height="23.47" fill="#f3e72d"/>
<rect x="0" y="0" width="141.10" height="140.80" fill="none" stroke="#000" stroke-width="0.36"/>
<text transform="translate(11.76,13.33) scale(0.1030,0.1000)" text-anchor="middle" fill="#f3e72d">310</text>
<text transform="translate(35.27,13.33) scale(0.1030,0.1000)" text-anchor="middle" fill="#f3e72d">1</text>
<text transform="translate(58.79,13.33) scale(0.1030,0.1000)" text-anchor="middle" fill="#f3e72d">0</text>
<text transform="translate(82.31,13.33) scale(0.1030,0.1000)" text-anchor="middle" fill="#f3e72d">0</text>
<text transform="translate(105.82,13.33) scale(0.1030,0.1000)" text-anchor="middle" fill="#f3e72d">28</text>
<text transform="translate(129.34,13.33) scale(0.1030,0.1000)" text-anchor="middle" fill="#f3e72d">9</text>
<text transform="translate(11.76,36.80) scale(0.1030,0.1000)" text-anchor="middle" fill="#f3e72d">1</text>
<text transform="translate(35.27,36.80) scale(0.1030,0.1000)" text-anchor="middle" fill="#3e0048">1290</text>
<text transform="translate(58.79,36.80) scale(0.1030,0.1000)" text-anchor="middle" fill="#f3e72d">0</text>
<text transform="translate(82.31,36.80) scale(0.1030,0.1000)" text-anchor="middle" fill="#f3e72d">0</text>
<text transform="translate(105.82,36.80) scale(0.1030,0.1000)" text-anchor="middle" fill="#f3e72d">3</text>
<text transform="translate(129.34,36.80) scale(0.1030,0.1000)" text-anchor="middle" fill="#f3e72d">5</text>
<text transform="translate(11.76,60.27) scale(0.1030,0.1000)" text-anchor="middle" fill="#f3e72d">1</text>
<text transform="translate(35.27,60.27) scale(0.1030,0.1000)" text-anchor="middle" fill="#f3e72d">0</text>
<text transform="translate(58.79,60.27) scale(0.1030,0.1000)" text-anchor="middle" fill="#f3e72d">217</text>
<text transform="translate(82.31,60.27) scale(0.1030,0.1000)" text-anchor="middle" fill="#f3e72d">2</text>
<text transform="translate(105.82,60.27) scale(0.1030,0.1000)" text-anchor="middle" fill="#f3e72d">1</text>
<text transform="translate(129.34,60.27) scale(0.1030,0.1000)" text-anchor="middle" fill="#f3e72d">0</text>
<text transform="translate(11.76,83.73) scale(0.1030,0.1000)" text-anchor="middle" fill="#f3e72d">1</text>
<text transform="translate(35.27,83.73) scale(0.1030,0.1000)" text-anchor="middle" fill="#f3e72d">0</text>
<text transform="translate(58.79,83.73) scale(0.1030,0.1000)" text-anchor="middle" fill="#f3e72d">2</text>
<text transform="translate(82.31,83.73) scale(0.1030,0.1000)" text-anchor="middle" fill="#f3e72d">160</text>
<text transform="translate(105.82,83.73) scale(0.1030,0.1000)" text-anchor="middle" fill="#f3e72d">0</text>
<text transform="translate(129.34,83.73) scale(0.1030,0.1000)" text-anchor="middle" fill="#f3e72d">0</text>
<text transform="translate(11.76,107.20) scale(0.1030,0.1000)" text-anchor="middle" fill="#f3e72d">30</text>
<text transform="translate(35.27,107.20) scale(0.1030,0.1000)" text-anchor="middle" fill="#f3e72d">16</text>
<text transform="translate(58.79,107.20) scale(0.1030,0.1000)" text-anchor="middle" fill="#f3e72d">0</text>
<text transform="translate(82.31,107.20) scale(0.1030,0.1000)" text-anchor="middle" fill="#f3e72d">1</text>
<text transform="translate(105.82,107.20) scale(0.1030,0.1000)" text-anchor="middle" fill="#f3e72d">408</text>
<text transform="translate(129.34,107.20) scale(0.1030,0.1000)" text-anchor="middle" fill="#f3e72d">12</text>
<text transform="translate(11.76,130.67) scale(0.1030,0.1000)" text-anchor="middle" fill="#f3e72d">6</text>
<text transform="translate(35.27,130.67) scale(0.1030,0.1000)" text-anchor="middle" fill="#f3e72d">0</text>
<text transform="translate(58.79,130.67) scale(0.1030,0.1000)" text-anchor="middle" fill="#f3e72d">0</text>
<text transform="translate(82.31,130.67) scale(0.1030,0.1000)" text-anchor="middle" fill="#f3e72d">0</text>
<text transform="translate(105.82,130.67) scale(0.1030,0.1000)" text-anchor="middle" fill="#f3e72d">7</text>
<text transform="translate(129.34,130.67) scale(0.1030,0.1000)" text-anchor="middle" fill="#3e0048">1556</text>
<line x1="-1.80" y1="11.73" x2="0" y2="11.73" class="tk"/>
<text transform="translate(-3.25,13.63) scale(0.1030,0.1000)" text-anchor="end" class="k">0</text>
<line x1="11.76" y1="140.80" x2="11.76" y2="142.60" class="tk"/>
<text transform="translate(11.76,148.40) scale(0.1030,0.1000)" text-anchor="middle" class="k">0</text>
<line x1="-1.80" y1="35.20" x2="0" y2="35.20" class="tk"/>
<text transform="translate(-3.25,37.10) scale(0.1030,0.1000)" text-anchor="end" class="k">1</text>
<line x1="35.27" y1="140.80" x2="35.27" y2="142.60" class="tk"/>
<text transform="translate(35.27,148.40) scale(0.1030,0.1000)" text-anchor="middle" class="k">1</text>
<line x1="-1.80" y1="58.67" x2="0" y2="58.67" class="tk"/>
<text transform="translate(-3.25,60.57) scale(0.1030,0.1000)" text-anchor="end" class="k">2</text>
<line x1="58.79" y1="140.80" x2="58.79" y2="142.60" class="tk"/>
<text transform="translate(58.79,148.40) scale(0.1030,0.1000)" text-anchor="middle" class="k">2</text>
<line x1="-1.80" y1="82.13" x2="0" y2="82.13" class="tk"/>
<text transform="translate(-3.25,84.03) scale(0.1030,0.1000)" text-anchor="end" class="k">3</text>
<line x1="82.31" y1="140.80" x2="82.31" y2="142.60" class="tk"/>
<text transform="translate(82.31,148.40) scale(0.1030,0.1000)" text-anchor="middle" class="k">3</text>
<line x1="-1.80" y1="105.60" x2="0" y2="105.60" class="tk"/>
<text transform="translate(-3.25,107.50) scale(0.1030,0.1000)" text-anchor="end" class="k">4</text>
<line x1="105.82" y1="140.80" x2="105.82" y2="142.60" class="tk"/>
<text transform="translate(105.82,148.40) scale(0.1030,0.1000)" text-anchor="middle" class="k">4</text>
<line x1="-1.80" y1="129.07" x2="0" y2="129.07" class="tk"/>
<text transform="translate(-3.25,130.97) scale(0.1030,0.1000)" text-anchor="end" class="k">5</text>
<line x1="129.34" y1="140.80" x2="129.34" y2="142.60" class="tk"/>
<text transform="translate(129.34,148.40) scale(0.1030,0.1000)" text-anchor="middle" class="k">5</text>
<text transform="translate(70.25,155.00) scale(0.1030,0.1000)" text-anchor="middle" class="k">Predicted label</text>
<text transform="translate(-10.70,70.40) rotate(-90) scale(0.1030,0.1000)" text-anchor="middle" class="k">True label</text>
<rect x="150.20" y="0" width="7.10" height="140.80" fill="url(#vg)" stroke="#000" stroke-width="0.44"/>
<line x1="157.30" y1="140.80" x2="159.10" y2="140.80" class="tk"/>
<text transform="translate(160.90,142.70) scale(0.1030,0.1000)" class="k">0</text>
<line x1="157.30" y1="122.70" x2="159.10" y2="122.70" class="tk"/>
<text transform="translate(160.90,124.60) scale(0.1030,0.1000)" class="k">200</text>
<line x1="157.30" y1="104.60" x2="159.10" y2="104.60" class="tk"/>
<text transform="translate(160.90,106.50) scale(0.1030,0.1000)" class="k">400</text>
<line x1="157.30" y1="86.51" x2="159.10" y2="86.51" class="tk"/>
<text transform="translate(160.90,88.41) scale(0.1030,0.1000)" class="k">600</text>
<line x1="157.30" y1="68.41" x2="159.10" y2="68.41" class="tk"/>
<text transform="translate(160.90,70.31) scale(0.1030,0.1000)" class="k">800</text>
<line x1="157.30" y1="50.31" x2="159.10" y2="50.31" class="tk"/>
<text transform="translate(160.90,52.21) scale(0.1030,0.1000)" class="k">1000</text>
<line x1="157.30" y1="32.21" x2="159.10" y2="32.21" class="tk"/>
<text transform="translate(160.90,34.11) scale(0.1030,0.1000)" class="k">1200</text>
<line x1="157.30" y1="14.12" x2="159.10" y2="14.12" class="tk"/>
<text transform="translate(160.90,16.02) scale(0.1030,0.1000)" class="k">1400</text>
</g>
</svg></div></div>
</body></html>
